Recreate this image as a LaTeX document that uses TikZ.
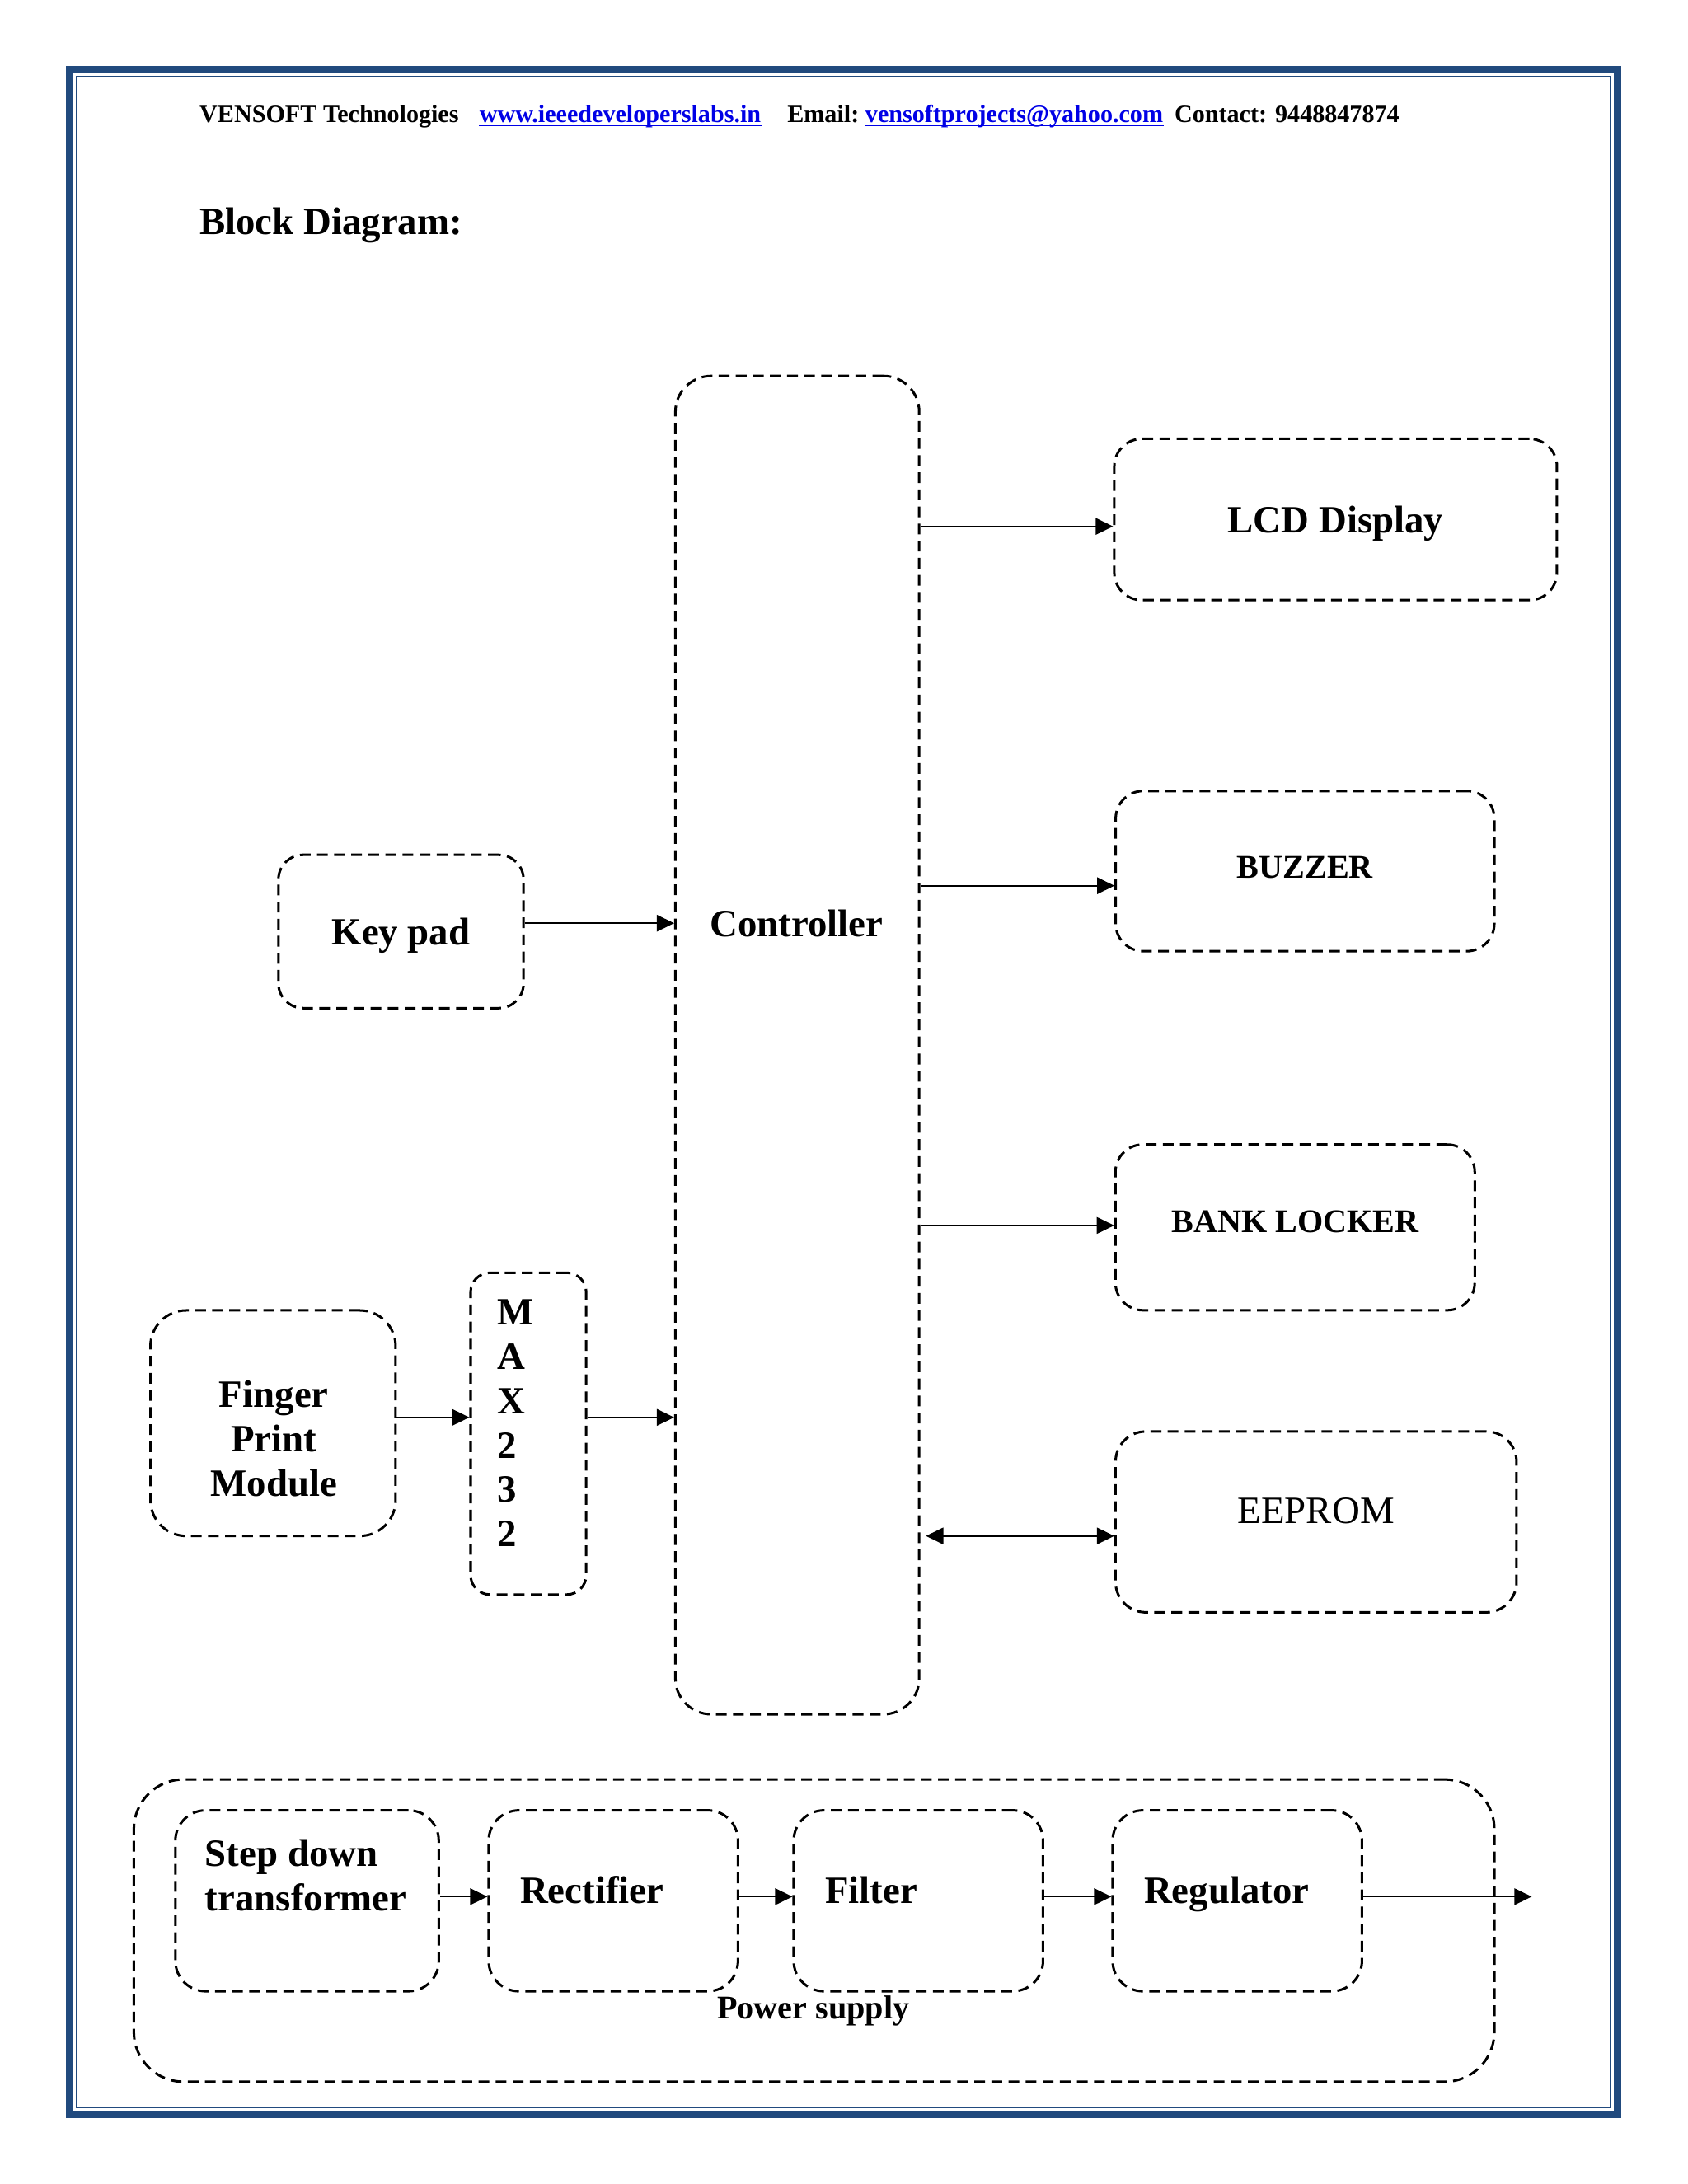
\documentclass[tikz,border=0pt]{standalone}
\usepackage{fontspec}
\setmainfont{Liberation Serif}
\usetikzlibrary{arrows.meta}
\definecolor{pageblue}{RGB}{33,74,126}
\definecolor{linkblue}{RGB}{0,0,230}

\begin{document}
\begin{tikzpicture}[x=1pt,y=1pt,inner sep=0pt,
	blk/.style={draw,line width=0.9pt,dash pattern=on 3.9pt off 2.3pt},
	big/.style={font=\fontsize{14}{16.1}\selectfont\bfseries},
	mid/.style={font=\fontsize{12}{13.8}\selectfont\bfseries},
	hdr/.style={anchor=base west,font=\fontsize{9}{11}\selectfont\bfseries},
	arr/.style={line width=0.6pt,-{Triangle[length=6.3pt,width=6pt]}},
	arrboth/.style={line width=0.6pt,{Triangle[length=6.3pt,width=6pt]}-{Triangle[length=6.3pt,width=6pt]}}]
	\fill[white] (0,0) rectangle (612,792);
	\useasboundingbox (0,0) rectangle (612,792);
	\draw[pageblue,line width=2.7pt] (25.35,25.35) rectangle (586.65,766.65);
	\draw[pageblue,line width=0.6pt] (27.9,27.9) rectangle (584.1,764.1);
	% header line
	\node[hdr] (firm) at (72.2,747.6) {VENSOFT Technologies};
	\node[hdr,linkblue] (web) at (173.7,747.6) {www.ieeedeveloperslabs.in};
	\node[hdr] (mailtag) at (285.3,747.6) {Email:};
	\node[hdr,linkblue] (mail) at (313.6,747.6) {vensoftprojects@yahoo.com};
	\node[hdr] (phone) at (425.7,747.6) {Contact: 9448847874};
	\foreach \lnk in {web,mail}
		\draw[linkblue,line width=0.5pt] ([yshift=-1.2pt]\lnk.base west) -- ([yshift=-1.2pt]\lnk.base east);
	\node[big,anchor=base west] (title) at (72.2,707.1) {Block Diagram:};
	% controller and its blocks
	\node[blk,rounded corners=13pt,minimum width=88.4pt,minimum height=485.3pt] (ctrl) at (289.1,413.0) {};
	\node[big] (ctrltxt) at (288.8,457.2) {Controller};
	\node[blk,big,text depth=0pt,rounded corners=10pt,minimum width=160.5pt,minimum height=58.5pt] (lcd) at (484.3,603.6) {LCD Display};
	\node[blk,mid,text depth=3pt,rounded corners=10pt,minimum width=137.3pt,minimum height=58.1pt] (buz) at (473.2,476.1) {BUZZER};
	\node[blk,mid,text depth=4pt,rounded corners=10pt,minimum width=130.3pt,minimum height=60.1pt] (bank) at (469.6,346.9) {BANK LOCKER};
	\node[blk,rounded corners=11pt,minimum width=145.4pt,minimum height=65.6pt] (eep) at (477.2,240.1) {};
	\node[font=\fontsize{14}{16.1}\selectfont] (eeptxt) at (477.2,244.1) {EEPROM};
	\node[blk,big,text depth=0pt,rounded corners=9pt,minimum width=88.9pt,minimum height=55.6pt] (kp) at (145.4,454.2) {Key pad};
	\node[blk,rounded corners=13pt,minimum width=88.9pt,minimum height=81.8pt] (fpm) at (99.0,275.9) {};
	\node[big,align=center] (fpmtxt) at (99.3,270.4) {Finger\\Print\\Module};
	\node[blk,rounded corners=7pt,minimum width=41.9pt,minimum height=116.7pt] (mx) at (191.6,272.1) {};
	\node[big,align=left,anchor=west] (mxtxt) at (180.3,275.9) {M\\A\\X\\2\\3\\2};
	\draw[arr] ([yshift=-2.5pt]ctrl.east |- lcd.west) -- ([yshift=-2.5pt]lcd.west);
	\draw[arr] ([yshift=-5.3pt]ctrl.east |- buz.west) -- ([yshift=-5.3pt]buz.west);
	\draw[arr] ([yshift=0.7pt]ctrl.east |- bank.west) -- ([yshift=0.7pt]bank.west);
	\draw[arrboth] ([xshift=2pt,yshift=-5.1pt]ctrl.east |- eep.west) -- ([yshift=-5.1pt]eep.west);
	\draw[arr] ([yshift=3pt]kp.east) -- ([yshift=3pt]kp.east -| ctrl.west);
	\draw[arr] ([yshift=2.1pt]fpm.east) -- ([yshift=2.1pt]fpm.east -| mx.west);
	\draw[arr] ([yshift=2.1pt]fpm.east -| mx.east) -- ([yshift=2.1pt]fpm.east -| ctrl.west);
	% power supply
	\node[blk,rounded corners=18pt,minimum width=493.3pt,minimum height=109.6pt] (psu) at (295.2,91.9) {};
	\node[mid] (psutxt) at (294.9,62.7) {Power supply};
	\node[blk,rounded corners=11pt,minimum width=95.5pt,minimum height=65.6pt] (sdt) at (111.35,102.7) {};
	\node[big,align=left,anchor=west] (sdttxt) at (74.2,112.0) {Step down\\transformer};
	\foreach \name/\cx/\txt in {rect/222.4/Rectifier,filt/333.0/Filter,reg/448.65/Regulator} {
		\node[blk,rounded corners=11pt,minimum width=90.4pt,minimum height=65.6pt] (\name) at (\cx,102.7) {};
		\node[big,anchor=base west] (\name txt) at ({\cx-34},101.7) {\txt};
	}
	\foreach \a/\b in {sdt/rect,rect/filt,filt/reg}
		\draw[arr] ([yshift=1.5pt]\a.east) -- ([yshift=1.5pt]\b.west);
	\coordinate (pout) at (555.4,104.2);
	\draw[arr] (reg.east |- pout) -- (pout);
\end{tikzpicture}
\end{document}
